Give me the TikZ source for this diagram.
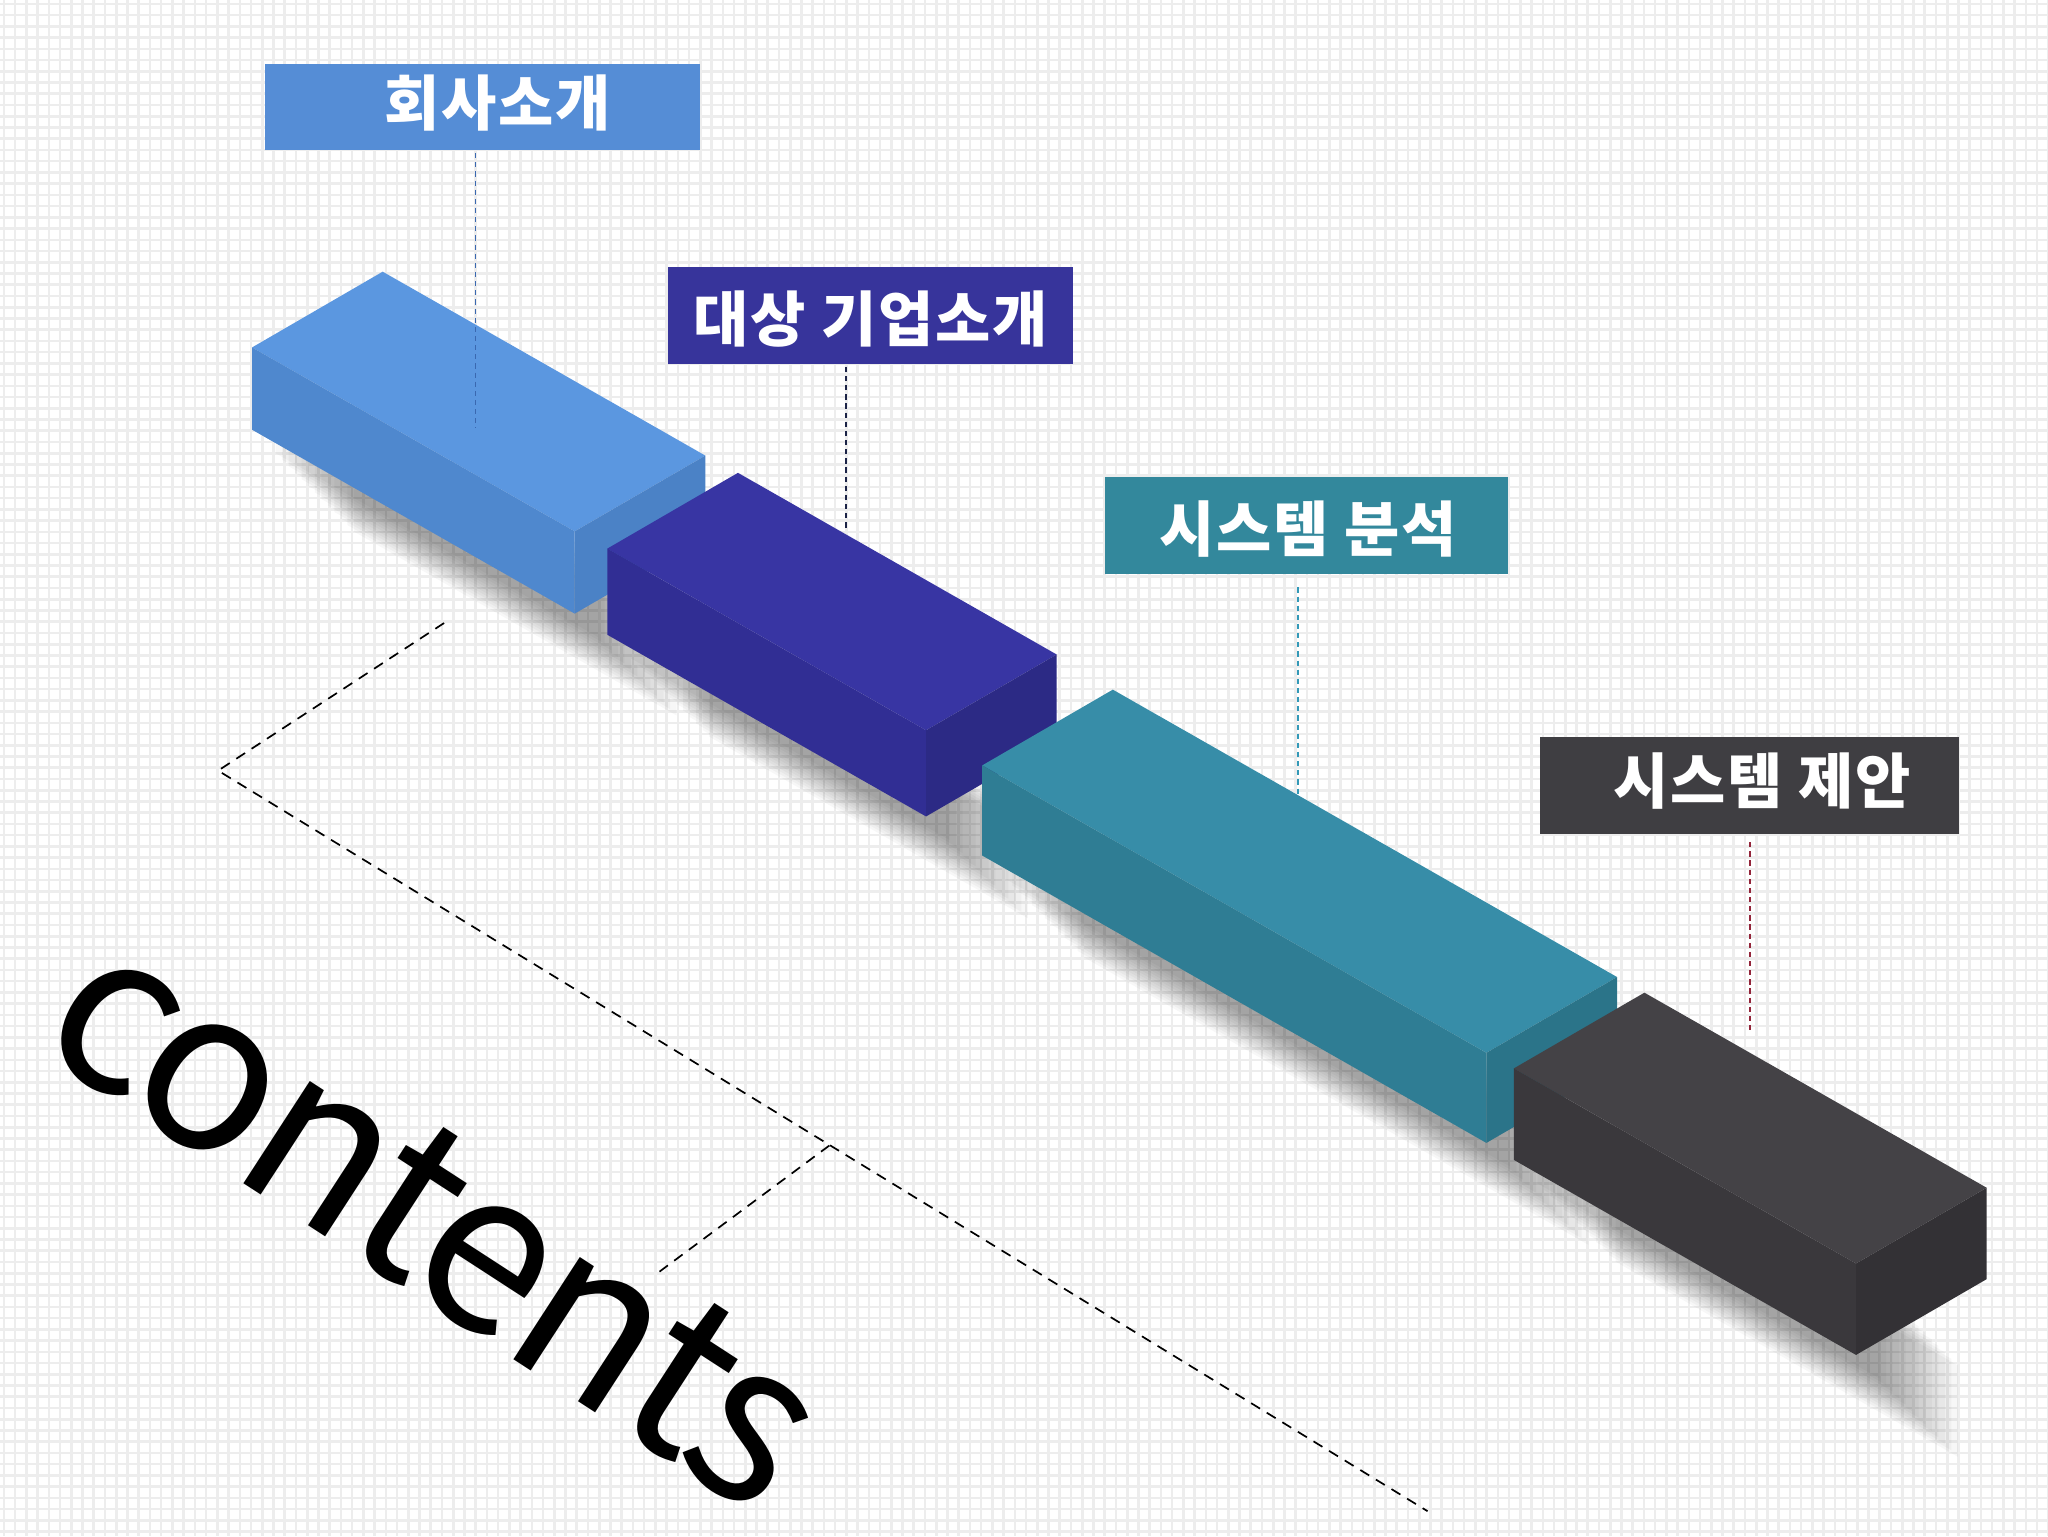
\documentclass[tikz,border=0pt]{standalone}
\usepackage{fontspec}
\usetikzlibrary{calc}
\newfontfamily\kr{Noto Sans CJK KR}
\definecolor{gridc}{HTML}{EDEDED}
\definecolor{labA}{HTML}{558DD6}
\definecolor{labB}{HTML}{37349B}
\definecolor{labC}{HTML}{33889C}
\definecolor{labD}{HTML}{3F3E42}
\definecolor{topA}{HTML}{5B97E0}
\definecolor{frontA}{HTML}{4F88CE}
\definecolor{rightA}{HTML}{4B82C6}
\definecolor{topB}{HTML}{3835A3}
\definecolor{frontB}{HTML}{312E94}
\definecolor{rightB}{HTML}{2C2A85}
\definecolor{topC}{HTML}{378DA8}
\definecolor{frontC}{HTML}{2F7D94}
\definecolor{rightC}{HTML}{2B7489}
\definecolor{topD}{HTML}{444246}
\definecolor{frontD}{HTML}{3A383C}
\definecolor{rightD}{HTML}{333135}
\definecolor{conA}{HTML}{3A68B0}
\definecolor{conB}{HTML}{1C2447}
\definecolor{conC}{HTML}{3399B8}
\definecolor{conD}{HTML}{93243A}
\newcommand\defbox[5]{% name, x, y, length, height
  \coordinate (#1A) at (#2,#3);
  \coordinate (#1B) at ($(#1A)+(100,-58)$);
  \coordinate (#1D) at ($(#1A)+(#4,#4*0.57)$);
  \coordinate (#1C) at ($(#1D)+(100,-58)$);
  \coordinate (#1Ab) at ($(#1A)+(0,#5)$);
  \coordinate (#1Db) at ($(#1D)+(0,#5)$);
  \coordinate (#1Cb) at ($(#1C)+(0,#5)$);
}
\newcommand\shadebox[1]{%
  \foreach \s in {18,23,...,78}{%
    \fill[black, opacity=0.032]
      ($(#1A)+(\s,\s)$) -- ($(#1D)+(\s,\s)$) -- ($(#1Db)+(\s,\s)$) -- ($(#1Ab)+(\s,\s)$) -- cycle;}%
}
\newcommand\paintbox[4]{% name, top, front, right
  \fill[#2] (#1A) -- (#1B) -- (#1C) -- (#1D) -- cycle;
  \fill[#3] (#1A) -- (#1D) -- (#1Db) -- (#1Ab) -- cycle;
  \fill[#4] (#1D) -- (#1C) -- (#1Cb) -- (#1Db) -- cycle;
}
\begin{document}
\begin{tikzpicture}[x=1pt,y=-1pt,
  gridline/.style={draw=gridc, line width=2pt},
  bigdash/.style={draw=black, line width=1.3pt, dash pattern=on 8pt off 6pt},
  condash/.style={line width=1.4pt, dash pattern=on 4pt off 3pt},
  labbox/.style={rectangle, inner sep=0pt, draw=none},
  labtext/.style={text=white, font=\kr\bfseries\fontsize{46}{46}\selectfont\addfontfeature{LetterSpace=3}, inner sep=0pt}]
\useasboundingbox (0,0) rectangle (1568,1176);
\fill[white] (0,0) rectangle (1568,1176);
\foreach \i in {0,...,182} \draw[gridline] (\i*8.6+3,0) -- (\i*8.6+3,1176);
\foreach \j in {0,...,137} \draw[gridline] (0,\j*8.6+3) -- (1568,\j*8.6+3);

% big dashed guide lines
\coordinate (p1) at (340,477);
\coordinate (p2) at (167,590);
\coordinate (p3) at (1093,1157);
\coordinate (p4) at (635,877);
\coordinate (p5) at (503,975);
\draw[bigdash] (p1) -- (p2) -- (p3);
\draw[bigdash] (p4) -- (p5);

% boxes
\defbox{ba}{193}{266}{247}{63}
\defbox{bb}{465}{420}{244}{66}
\defbox{bc}{752}{586}{386}{69}
\defbox{bd}{1159}{818}{262}{70}
\shadebox{ba}\shadebox{bb}\shadebox{bc}\shadebox{bd}
\paintbox{ba}{topA}{frontA}{rightA}
\paintbox{bb}{topB}{frontB}{rightB}
\paintbox{bc}{topC}{frontC}{rightC}
\paintbox{bd}{topD}{frontD}{rightD}

% labels
\node[labbox, fill=labA, minimum width=333pt, minimum height=66pt] (l1) at (369.5,82) {};
\node[labtext] (t1) at (381,79) {회사소개};
\node[labbox, fill=labB, minimum width=310pt, minimum height=74pt] (l2) at (666.5,241.7) {};
\node[labtext] (t2) at (666.8,244) {대상 기업소개};
\node[labbox, fill=labC, minimum width=308pt, minimum height=74pt] (l3) at (1000.3,402.5) {};
\node[labtext] (t3) at (1001.8,405) {시스템 분석};
\node[labbox, fill=labD, minimum width=321pt, minimum height=74pt] (l4) at (1339.7,601.6) {};
\node[labtext] (t4) at (1348.9,598) {시스템 제안};

% connectors
\coordinate (e1) at (364,328);
\coordinate (e2) at (648,406);
\coordinate (e3) at (994,608);
\coordinate (e4) at (1340,790);
\draw[condash, draw=conA] ($(l1.south -| e1)+(0,2)$) -- (e1);
\draw[condash, draw=conB] ($(l2.south -| e2)+(0,2)$) -- (e2);
\draw[condash, draw=conC] ($(l3.south -| e3)+(0,10)$) -- (e3);
\draw[condash, draw=conD] ($(l4.south -| e4)+(0,6)$) -- (e4);

% title
\node[rotate=-33, font=\kr\fontsize{172}{172}\selectfont\addfontfeature{LetterSpace=-3}, inner sep=0pt] (title) at (334,932) {contents};
\end{tikzpicture}
\end{document}
